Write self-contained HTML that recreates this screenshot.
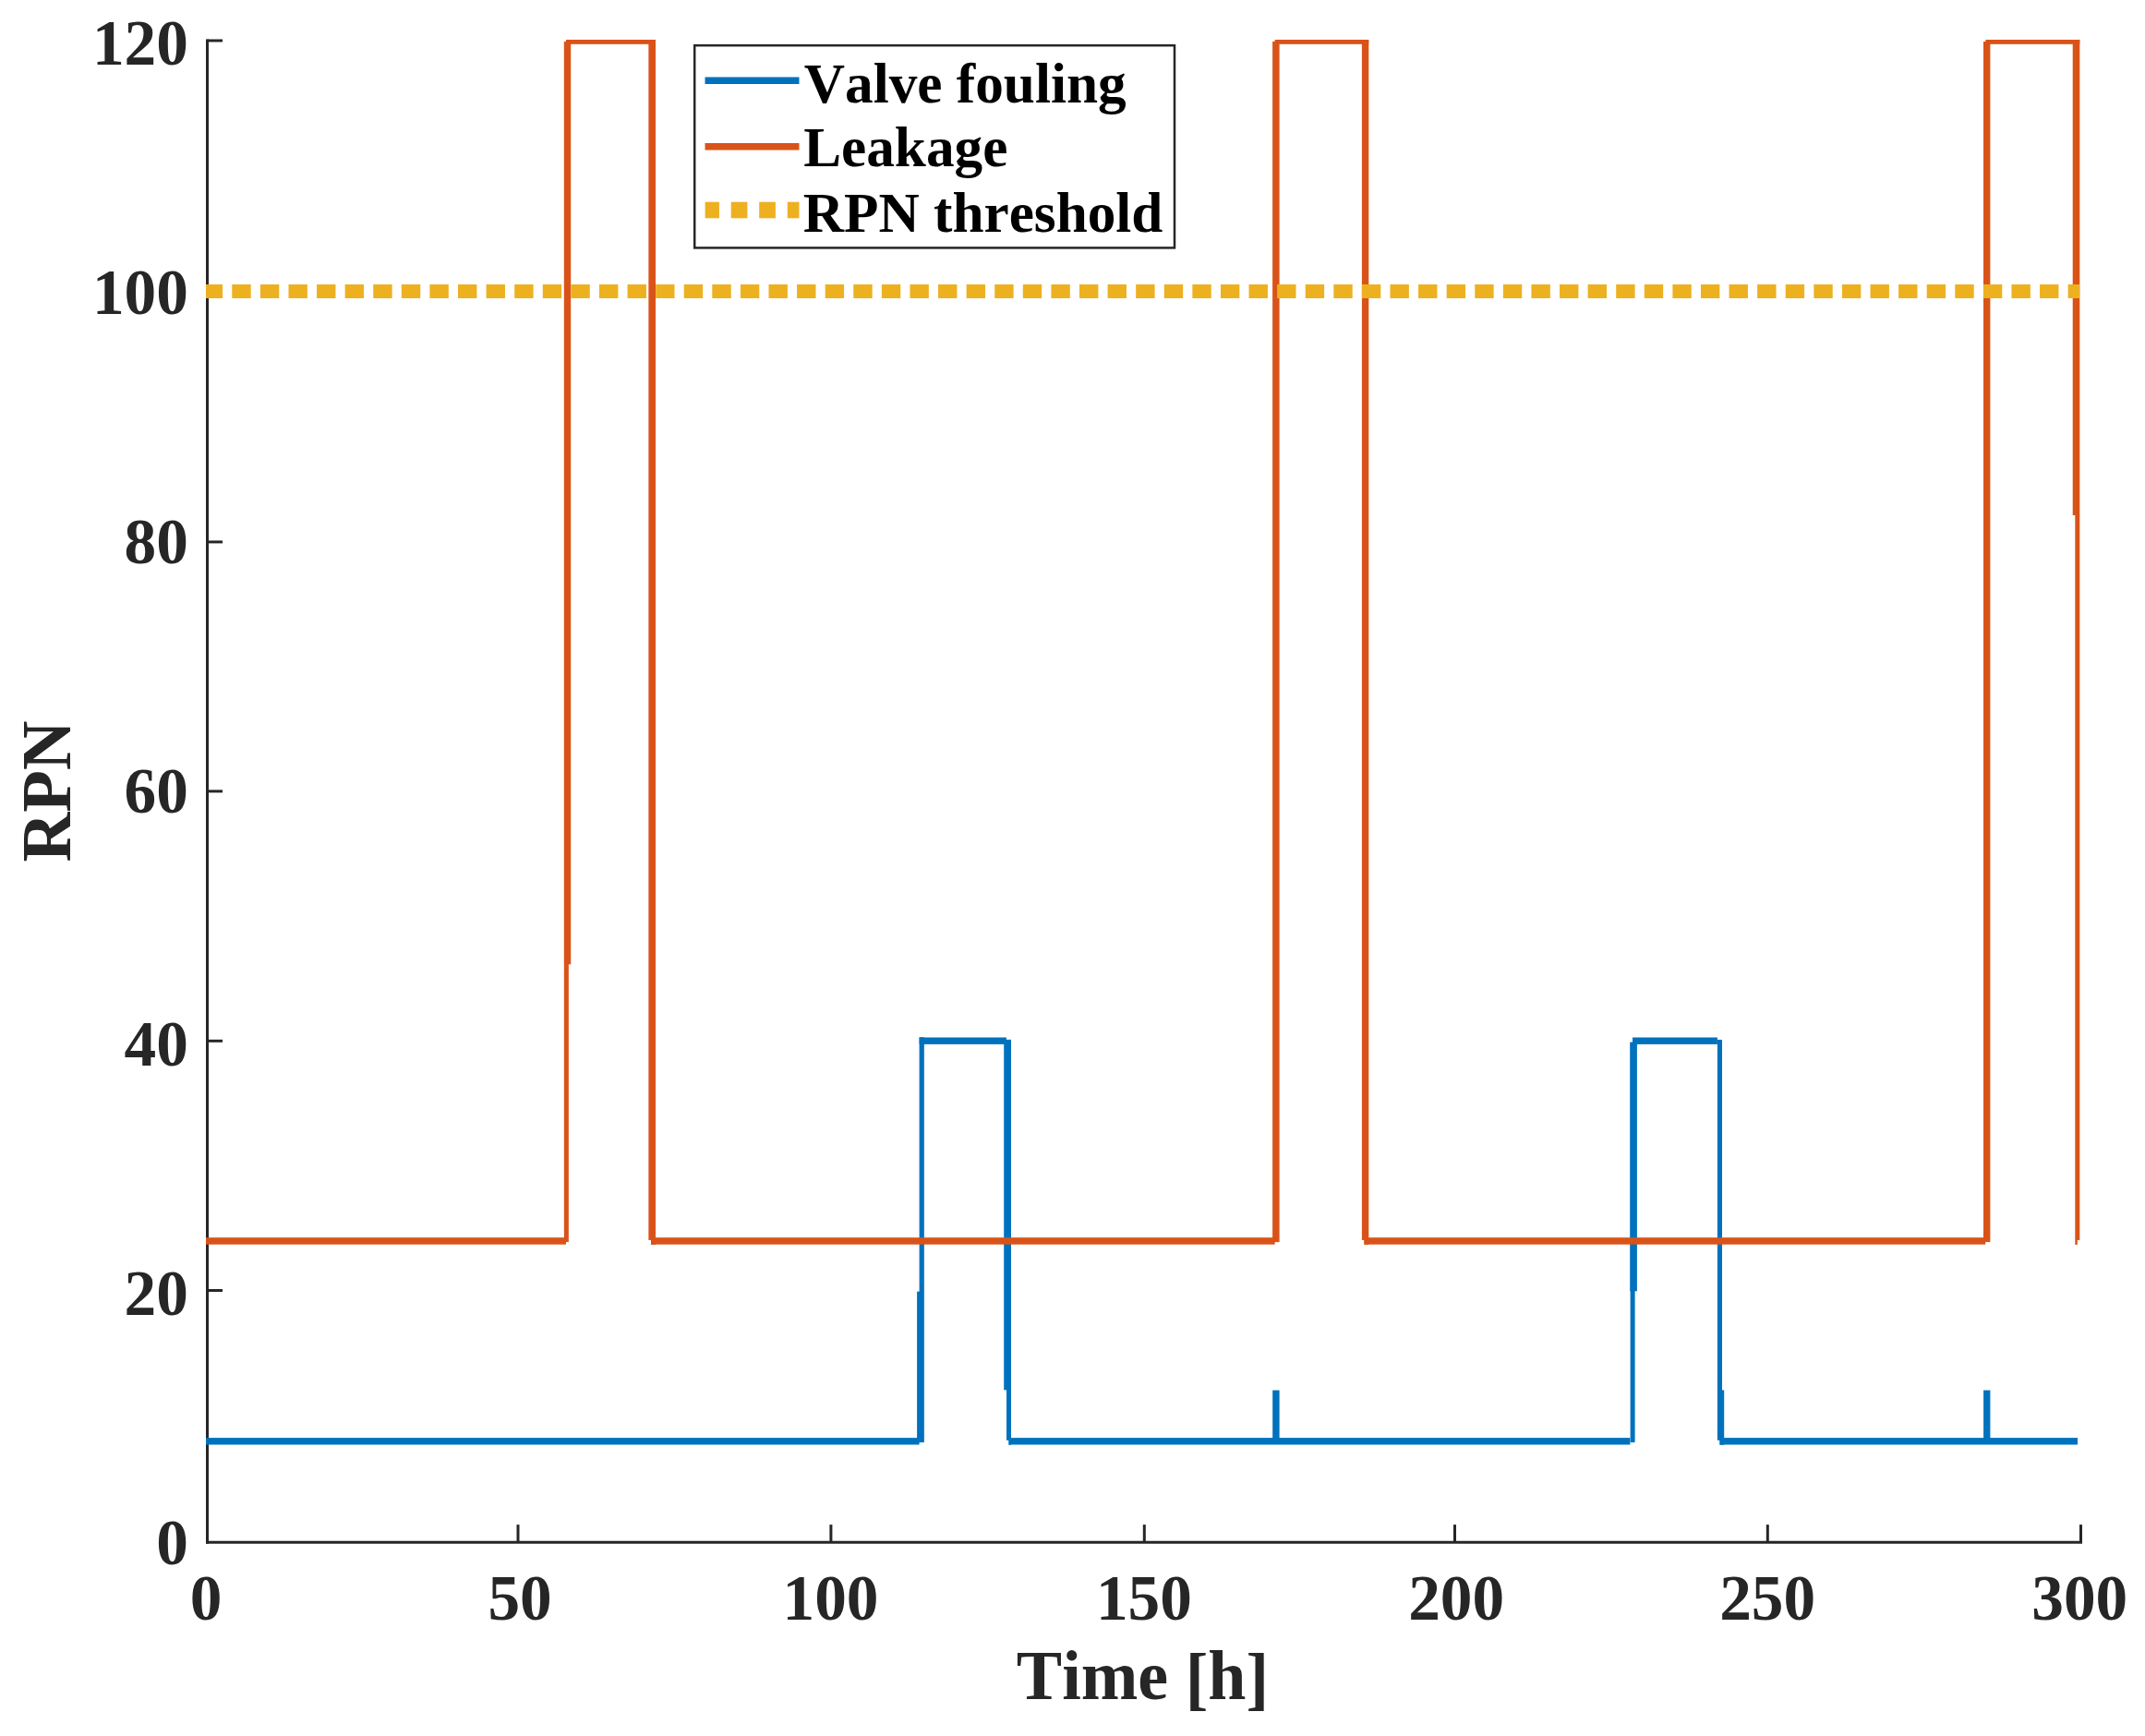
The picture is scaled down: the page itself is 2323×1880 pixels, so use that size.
<!DOCTYPE html>
<html lang="en"><head><meta charset="utf-8"><title>RPN over time</title>
<style>html,body{margin:0;padding:0;background:#fff}body{width:2323px;height:1880px;overflow:hidden}svg{display:block}text{font-family:"Liberation Serif",serif;font-weight:bold;font-kerning:none}</style>
</head><body>
<svg width="2323" height="1880" viewBox="0 0 2323 1880">
<rect x="0" y="0" width="2323" height="1880" fill="#fff"/>
<g stroke="#262626" stroke-width="3" fill="none" stroke-linecap="butt">
<path d="M224.5 42.5 V1671.8"/>
<path d="M223 1670.3 H2255"/>
<path d="M224.5 1397.5 H241"/>
<path d="M224.5 1127.3 H241"/>
<path d="M224.5 856.9 H241"/>
<path d="M224.5 586.9 H241"/>
<path d="M224.5 315.5 H241"/>
<path d="M224.5 44.0 H241"/>
<path d="M561.0 1670.3 V1651.1"/>
<path d="M899.9 1670.3 V1651.1"/>
<path d="M1239.3 1670.3 V1651.1"/>
<path d="M1575.5 1670.3 V1651.1"/>
<path d="M1914.3 1670.3 V1651.1"/>
<path d="M2253.5 1670.3 V1651.1"/>
</g>
<clipPath id="c"><rect x="223" y="42.9" width="2032" height="1629"/></clipPath>
<g clip-path="url(#c)">
<g fill="#0072BD" stroke="none">
<rect x="223.00" y="1557.10" width="772.60" height="7.40"/>
<rect x="995.60" y="1123.50" width="94.30" height="7.40"/>
<rect x="1092.50" y="1557.10" width="672.90" height="7.40"/>
<rect x="1768.00" y="1123.50" width="91.90" height="7.40"/>
<rect x="1862.50" y="1557.10" width="387.50" height="7.40"/>
<rect x="993.10" y="1398.65" width="7.75" height="163.40"/>
<rect x="995.60" y="1123.25" width="5.25" height="275.90"/>
<rect x="1087.20" y="1125.85" width="7.80" height="379.50"/>
<rect x="1090.00" y="1504.85" width="5.00" height="54.90"/>
<rect x="1092.50" y="1559.25" width="2.50" height="5.50"/>
<rect x="1765.60" y="1397.75" width="5.00" height="164.30"/>
<rect x="1765.20" y="1128.55" width="7.70" height="269.70"/>
<rect x="1859.90" y="1125.95" width="5.10" height="380.00"/>
<rect x="1859.90" y="1505.45" width="7.30" height="54.30"/>
<rect x="1862.50" y="1559.25" width="4.70" height="5.50"/>
<rect x="1378.20" y="1505.55" width="7.40" height="55.50"/>
<rect x="2148.10" y="1505.55" width="7.30" height="55.50"/>
</g>
<g fill="#D95319" stroke="none">
<rect x="223.00" y="1340.20" width="390.00" height="7.50"/>
<rect x="613.00" y="40.45" width="97.00" height="7.40"/>
<rect x="705.00" y="1340.20" width="675.60" height="7.50"/>
<rect x="1380.60" y="40.45" width="101.60" height="7.40"/>
<rect x="1477.40" y="1340.20" width="672.80" height="7.50"/>
<rect x="2150.40" y="40.45" width="101.90" height="7.40"/>
<rect x="610.85" y="1043.85" width="5.00" height="301.20"/>
<rect x="610.80" y="44.95" width="7.40" height="999.40"/>
<rect x="702.35" y="39.75" width="7.65" height="1303.20"/>
<rect x="705.00" y="1342.45" width="5.00" height="5.50"/>
<rect x="1378.10" y="44.95" width="7.50" height="1300.20"/>
<rect x="1474.90" y="39.75" width="7.40" height="1303.20"/>
<rect x="1477.40" y="1342.45" width="4.90" height="5.50"/>
<rect x="2148.00" y="45.05" width="7.40" height="1300.00"/>
<rect x="2244.70" y="39.75" width="7.60" height="518.20"/>
<rect x="2247.30" y="557.45" width="5.00" height="785.50"/>
<rect x="2247.30" y="1342.45" width="2.50" height="5.50"/>
</g>
<path d="M223 315.45 H2252.2" stroke="#EDB120" stroke-width="15" stroke-dasharray="20.4 10.19" stroke-dashoffset="2.3" fill="none"/>
</g>
<g fill="#262626" font-size="70">
<text transform="translate(203.9 1693.6) scale(0.99 1)" text-anchor="end">0</text>
<text transform="translate(203.9 1423.9) scale(0.99 1)" text-anchor="end">20</text>
<text transform="translate(203.9 1153.5) scale(0.99 1)" text-anchor="end">40</text>
<text transform="translate(203.9 880.4) scale(0.99 1)" text-anchor="end">60</text>
<text transform="translate(203.9 610.3) scale(0.99 1)" text-anchor="end">80</text>
<text transform="translate(203.9 340.2) scale(0.99 1)" text-anchor="end">100</text>
<text transform="translate(203.9 70.3) scale(0.99 1)" text-anchor="end">120</text>
<text transform="translate(223.0 1753.6) scale(0.99 1)" text-anchor="middle">0</text>
<text transform="translate(563.1 1753.6) scale(0.99 1)" text-anchor="middle">50</text>
<text transform="translate(899.5 1753.6) scale(0.99 1)" text-anchor="middle">100</text>
<text transform="translate(1238.9 1753.6) scale(0.99 1)" text-anchor="middle">150</text>
<text transform="translate(1577.2 1753.6) scale(0.99 1)" text-anchor="middle">200</text>
<text transform="translate(1914.2 1753.6) scale(0.99 1)" text-anchor="middle">250</text>
<text transform="translate(2252.3 1753.6) scale(0.99 1)" text-anchor="middle">300</text>
</g>
<g fill="#262626" font-size="77">
<text transform="translate(1237.5 1839.7) scale(0.961 1)" text-anchor="middle">Time <tspan dy="3.2">[</tspan><tspan dy="-3.2">h</tspan><tspan dy="3.2">]</tspan></text>
<text transform="translate(76 857) rotate(-90) scale(0.9676 1)" text-anchor="middle">RPN</text>
</g>
<rect x="752.2" y="49.2" width="519.8" height="219.2" fill="#fff" stroke="#262626" stroke-width="2.5"/>
<rect x="763.5" y="83.5" width="102" height="7.5" fill="#0072BD"/>
<rect x="763.5" y="155" width="102" height="7.5" fill="#D95319"/>
<g fill="#EDB120">
<rect x="763.6" y="218.7" width="15.3" height="17.6"/>
<rect x="791.7" y="218.7" width="17.7" height="17.6"/>
<rect x="822.2" y="218.7" width="17.7" height="17.6"/>
<rect x="852.8" y="218.7" width="12.7" height="17.6"/>
</g>
<g fill="#000" font-size="61.25">
<text x="870.8" y="111.2">Valve fouling</text>
<text x="870.2" y="180.2">Leakage</text>
<text x="869.8" y="251.4">RPN threshold</text>
</g>
</svg>
</body></html>
